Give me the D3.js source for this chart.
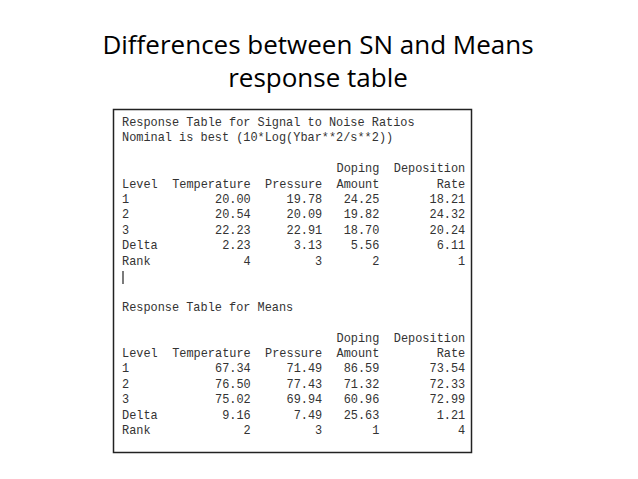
<!DOCTYPE html>
<html><head><meta charset="utf-8">
<script src="https://cdn.jsdelivr.net/npm/d3@7"></script>
<style>body{margin:0;background:#fff}svg{display:block}</style>
</head><body>
<script>
const titleLines = ["Differences between SN and Means", "response table"];
const columns = ["Temperature", "Pressure", "Doping Amount", "Deposition Rate"];
const levels = ["1", "2", "3", "Delta", "Rank"];
const snValues = [
  ["20.00", "19.78", "24.25", "18.21"],
  ["20.54", "20.09", "19.82", "24.32"],
  ["22.23", "22.91", "18.70", "20.24"],
  ["2.23", "3.13", "5.56", "6.11"],
  ["4", "3", "2", "1"]
];
const meanValues = [
  ["67.34", "71.49", "86.59", "73.54"],
  ["76.50", "77.43", "71.32", "72.33"],
  ["75.02", "69.94", "60.96", "72.99"],
  ["9.16", "7.49", "25.63", "1.21"],
  ["2", "3", "1", "4"]
];

const W = 638, H = 479;
const svg = d3.select("body").append("svg").attr("width", W).attr("height", H);

svg.selectAll("text.title").data(titleLines).join("text")
  .attr("x", 318).attr("y", (d, i) => 54 + i * 33)
  .attr("text-anchor", "middle")
  .style("font-family", "'Open Sans', 'Noto Sans', sans-serif")
  .style("font-size", "26px").attr("fill", "#000").text(d => d);

svg.append("rect").attr("x", 113.5).attr("y", 109.5).attr("width", 358).attr("height", 343)
  .attr("fill", "#fff").attr("stroke", "#222").attr("stroke-width", 1.5);

const cx = d3.scaleLinear().domain([0, 1]).range([122, 129.15]);
const ly = d3.scaleLinear().domain([0, 1]).range([126, 141.4]);
const ends = [18, 28, 36, 48];
const g = svg.append("g").style("font-family", "'Liberation Mono', 'Courier New', monospace")
  .style("font-size", "11.9px").attr("fill", "#333");

function txt(line, col, s, anchor) {
  g.append("text").attr("x", cx(col)).attr("y", ly(line))
    .attr("text-anchor", anchor || "start").text(s);
}

function table(start, titles, values) {
  titles.forEach((t, i) => txt(start + i, 0, t));
  const h = start + titles.length + 1;
  columns.forEach((c, j) => {
    const parts = c.split(" ");
    if (parts.length > 1) txt(h, ends[j], parts[0], "end");
    txt(h + 1, ends[j], parts[parts.length - 1], "end");
  });
  txt(h + 1, 0, "Level");
  levels.forEach((lv, i) => {
    txt(h + 2 + i, 0, lv);
    values[i].forEach((v, j) => txt(h + 2 + i, ends[j], v, "end"));
  });
}
table(0, ["Response Table for Signal to Noise Ratios", "Nominal is best (10*Log(Ybar**2/s**2))"], snValues);
svg.append("line").attr("x1", 123).attr("x2", 123).attr("y1", ly(10) - 9).attr("y2", ly(10) + 4)
  .attr("stroke", "#222").attr("stroke-width", 1.2);
table(12, ["Response Table for Means"], meanValues);
</script>
</body></html>
